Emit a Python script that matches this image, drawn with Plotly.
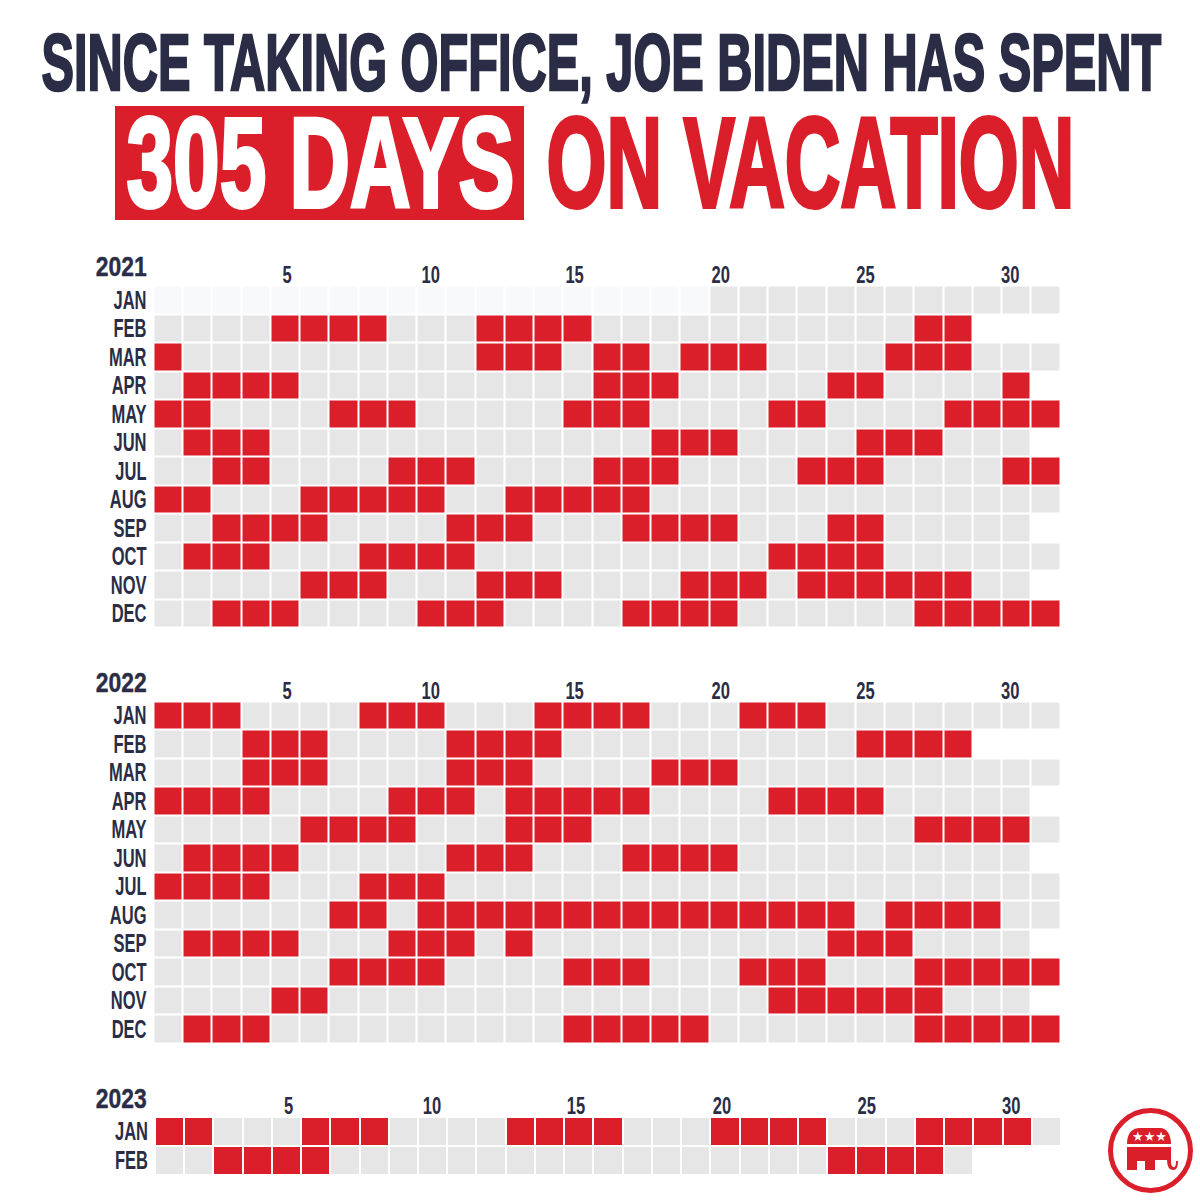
import json

import plotly.graph_objects as go

NAVY = "#2a2d45"
RED = "#da1e2a"
GRAY = "#e6e6e6"
FAINT = "#f8f9fb"
FONT = "Liberation Sans"

months = ["JAN", "FEB", "MAR", "APR", "MAY", "JUN", "JUL", "AUG", "SEP", "OCT", "NOV", "DEC"]
month_lengths = [31, 28, 31, 30, 31, 30, 31, 31, 30, 31, 30, 31]
day_labels = ["5", "10", "15", "20", "25", "30"]
# the labels in the original sit slightly left of their columns further along the row
day_label_positions = [5.07, 9.98, 14.9, 19.9, 24.85, 29.8]

# days before the term started are drawn nearly white
days_before_office_2021 = list(range(1, 20))

# vacation days, one list per month
vacation_2021 = [
    [],
    [5, 6, 7, 8, 12, 13, 14, 15, 27, 28],
    [1, 12, 13, 14, 16, 17, 19, 20, 21, 26, 27, 28],
    [2, 3, 4, 5, 16, 17, 18, 24, 25, 30],
    [1, 2, 7, 8, 9, 15, 16, 17, 22, 23, 28, 29, 30, 31],
    [2, 3, 4, 18, 19, 20, 25, 26, 27],
    [3, 4, 9, 10, 11, 16, 17, 18, 23, 24, 25, 30, 31],
    [1, 2, 6, 7, 8, 9, 10, 13, 14, 15, 16, 17],
    [3, 4, 5, 6, 11, 12, 13, 17, 18, 19, 20, 24, 25],
    [2, 3, 4, 8, 9, 10, 11, 22, 23, 24, 25],
    [6, 7, 8, 12, 13, 14, 19, 20, 21, 23, 24, 25, 26, 27, 28],
    [3, 4, 5, 10, 11, 12, 17, 18, 19, 20, 27, 28, 29, 30, 31],
]
vacation_2022 = [
    [1, 2, 3, 8, 9, 10, 14, 15, 16, 17, 21, 22, 23],
    [4, 5, 6, 11, 12, 13, 14, 25, 26, 27, 28],
    [4, 5, 6, 11, 12, 13, 18, 19, 20],
    [1, 2, 3, 4, 9, 10, 11, 13, 14, 15, 16, 17, 22, 23, 24, 25],
    [6, 7, 8, 9, 13, 14, 15, 27, 28, 29, 30],
    [2, 3, 4, 5, 11, 12, 13, 17, 18, 19, 20],
    [1, 2, 3, 4, 8, 9, 10],
    [7, 8, 10, 11, 12, 13, 14, 15, 16, 17, 18, 19, 20, 21, 22, 23, 24, 26, 27, 28, 29],
    [2, 3, 4, 5, 9, 10, 11, 13, 24, 25, 26],
    [7, 8, 9, 10, 15, 16, 17, 21, 22, 23, 27, 28, 29, 30, 31],
    [5, 6, 22, 23, 24, 25, 26, 27],
    [2, 3, 4, 15, 16, 17, 18, 19, 27, 28, 29, 30, 31],
]
vacation_2023 = [
    [1, 2, 6, 7, 8, 13, 14, 15, 16, 20, 21, 22, 23, 27, 28, 29, 30],
    [3, 4, 5, 6, 24, 25, 26, 27],
]


def month_rows(vacation, faint_jan=()):
    rows = []
    for i, days in enumerate(vacation):
        row = []
        for d in range(1, 32):
            if d > month_lengths[i]:
                row.append(None)
            elif d in days:
                row.append(2)
            elif i == 0 and d in faint_jan:
                row.append(0)
            else:
                row.append(1)
        rows.append(row)
    return rows


fig = go.Figure()

# year, data, left/right/top/bottom in page pixels
panels = [
    ("2021", month_rows(vacation_2021, days_before_office_2021), 153.5, 1060, 285.5, 627.5, 266),
    ("2022", month_rows(vacation_2022), 153.5, 1060, 701.5, 1043, 682),
    ("2023", month_rows(vacation_2023), 155, 1061, 1117, 1174.5, 1098),
]

for n, (year, z, left, right, top, bottom, year_y) in enumerate(panels, start=1):
    suffix = "" if n == 1 else str(n)
    rows = months[:len(z)]
    fig.add_trace(go.Heatmap(
        z=z,
        x=list(range(1, 32)),
        y=rows,
        zmin=0, zmax=2,
        colorscale=[[0, FAINT], [0.5, GRAY], [1, RED]],
        showscale=False,
        xgap=2, ygap=2,
        xaxis=f"x{suffix}", yaxis=f"y{suffix}",
    ))
    fig.update_layout({
        f"xaxis{suffix}": dict(
            domain=[left / 1200, right / 1200], anchor=f"y{suffix}", side="top",
            range=[0.5, 31.5], tickmode="array", tickvals=day_label_positions, ticktext=day_labels,
            showgrid=False, zeroline=False, ticks="", ticklabelstandoff=-3,
            tickfont=dict(family=FONT, size=23, color=NAVY, weight="bold"),
        ),
        f"yaxis{suffix}": dict(
            domain=[1 - bottom / 1200, 1 - top / 1200], anchor=f"x{suffix}",
            autorange="reversed", tickmode="array", tickvals=rows, ticktext=rows,
            showgrid=False, zeroline=False, ticks="", ticklabelstandoff=6,
            tickfont=dict(family=FONT, size=25, color=NAVY, weight="bold"),
        ),
    })

# full page overlay axes so the headline and logo can be placed in pixels
fig.update_layout(
    xaxis4=dict(domain=[0, 1], range=[0, 1200], visible=False, anchor="y4", fixedrange=True),
    yaxis4=dict(domain=[0, 1], range=[1200, 0], visible=False, anchor="x4", fixedrange=True),
)


def page_text(text, x, y, size, color, family=FONT):
    fig.add_annotation(
        text=text, x=x, y=y, xref="x4", yref="y4", showarrow=False,
        font=dict(family=family, size=size, color=color, weight="bold"),
    )


page_text("SINCE TAKING OFFICE, JOE BIDEN HAS SPENT", 601, 62, 80, NAVY)
page_text("305 DAYS", 320, 162, 128, "white")
page_text("ON VACATION", 810, 162, 128, RED)
for year, z, left, right, top, bottom, year_y in panels:
    page_text(year, 121, year_y, 28, NAVY)
page_text("★★★", 1149, 1136, 13, "white", "DejaVu Sans")

fig.add_shape(type="rect", x0=115, x1=524, y0=106, y1=220, xref="x4", yref="y4",
              fillcolor=RED, line_width=0, layer="below")

# logo
fig.add_shape(type="circle", x0=1110.5, x1=1190.5, y0=1110.5, y1=1190.5, xref="x4", yref="y4",
              line=dict(color=RED, width=5))
fig.add_shape(type="path", xref="x4", yref="y4", fillcolor=RED, line_width=0,
              path="M1127 1144 C1127 1132 1133 1128 1140 1128 L1160 1128 C1167 1128 1171 1135 1171 1144 Z")
fig.add_shape(type="path", xref="x4", yref="y4", fillcolor=RED, line_width=0,
              path="M1127 1147 H1171 V1162 Q1171 1167 1174 1167 Q1176 1167 1176 1161 H1178 "
                   "Q1178 1170 1173.5 1170 Q1167 1170 1167 1160 H1155 V1170 H1145 V1161 H1137 V1170 H1127 Z")

fig.update_layout(
    width=1200, height=1200,
    margin=dict(l=0, r=0, t=0, b=0),
    paper_bgcolor="white", plot_bgcolor="rgba(0,0,0,0)",
    showlegend=False,
)

# No condensed display face is installed, so squeeze the real text horizontally.
widths = {
    "SINCE TAKING OFFICE, JOE BIDEN HAS SPENT": (1120, 2.5),
    "305 DAYS": (388, 4),
    "ON VACATION": (528, 4),
    "2021": (51, 0.4),
    "2022": (51, 0.4),
    "2023": (51, 0.4),
}
post_script = """
document.body.style.margin = '0';
var widths = %s;
function squeeze(el, sx, anchor) {
  var b = el.getBBox(), cx = b.x + b.width * anchor, cy = b.y + b.height / 2;
  var old = el.getAttribute('transform') || '';
  el.setAttribute('transform', old + ' translate(' + cx + ',' + cy + ') scale(' + sx + ',1) translate(' + (-cx) + ',' + (-cy) + ')');
}
document.querySelectorAll('.annotation-text').forEach(function (el) {
  var w = widths[el.textContent];
  if (w) {
    var sx = w[0] / el.getBBox().width;
    el.style.stroke = el.style.fill;
    el.style.strokeWidth = w[1] + 'px';
    squeeze(el, sx, 0.5);
  }
});
document.querySelectorAll('.ytick text, .y2tick text, .y3tick text').forEach(function (el) { squeeze(el, 0.66, 1); });
document.querySelectorAll('.xtick text, .x2tick text, .x3tick text').forEach(function (el) { squeeze(el, 0.72, 0.5); });
""" % json.dumps(widths)

fig.write_html("out.html", post_script=post_script, config={"displayModeBar": False})
